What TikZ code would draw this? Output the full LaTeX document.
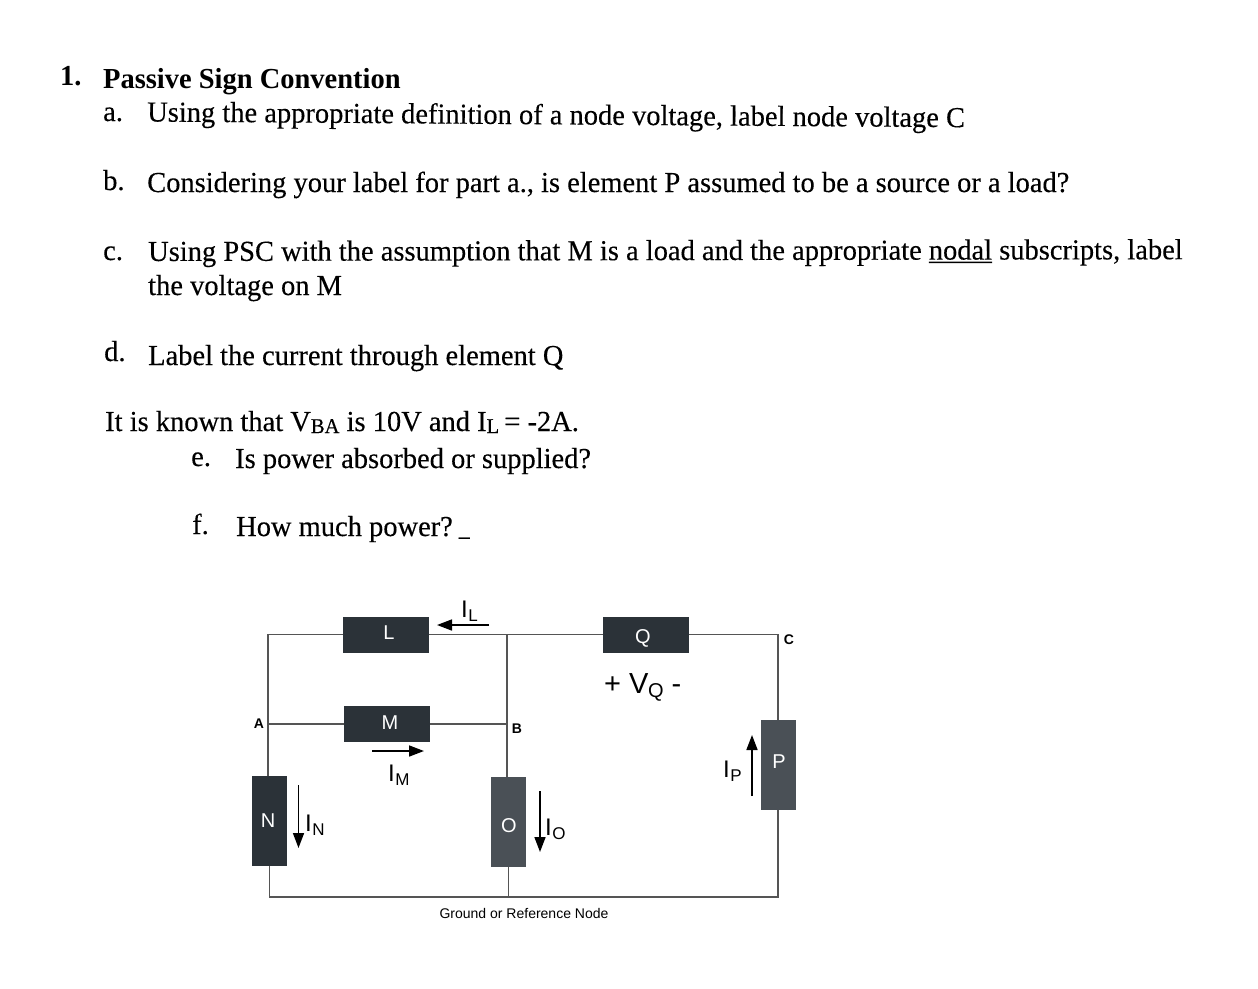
\documentclass[tikz,border=0pt]{standalone}
\usepackage{fontspec}
\setmainfont[FakeStretch=0.982,UprightFeatures={FakeBold=0.25}]{Liberation Serif}
\setsansfont{Liberation Sans}
\usetikzlibrary{arrows.meta}
\definecolor{boxdark}{HTML}{2B3238}
\definecolor{boxgrey}{HTML}{4A5056}
\definecolor{wire}{HTML}{555555}
\newcommand{\bodysize}{\fontsize{29}{33}\selectfont}
\newcommand{\lowsub}[1]{\raisebox{-2pt}{\fontsize{21}{21}\selectfont #1}}
\newcommand{\cursym}[1]{I\kern.5pt\raisebox{-4pt}{\fontsize{17}{17}\selectfont #1}}
\newcommand{\thickul}[1]{\setbox0\hbox{#1}\rlap{\rule[-3.5pt]{\wd0}{1.4pt}}#1}
\tikzset{
  x=1pt,y=-1pt,
  txt/.style={anchor=base west,inner sep=0pt,font=\bodysize},
  element/.style={draw=none,fill=boxdark,inner sep=0pt},
  horiz/.style={element,minimum width=86pt,minimum height=36pt},
  vert/.style={element,minimum width=35pt,minimum height=90pt},
  letter/.style={inner sep=0pt,text=white,font=\sffamily\fontsize{20}{20}\selectfont},
  wireline/.style={draw=wire,line width=1.4pt},
  lbl/.style={anchor=base west,inner sep=0pt,font=\sffamily\fontsize{24}{24}\selectfont},
  small/.style={inner sep=0pt,font=\sffamily\bfseries\fontsize{14}{14}\selectfont},
  currentarrow/.style={line width=1.6pt,-{Triangle[length=15pt,width=11pt]}}
}
\begin{document}
\begin{tikzpicture}
\useasboundingbox (0,0) rectangle (1258,988);
\fill[white] (0,0) rectangle (1258,988);
% text
\node[txt,font=\bodysize\bfseries] (n1) at (60,85) {1.};
\node[txt,font=\bodysize\bfseries] (t1) at (103,88) {Passive Sign Convention};
\node[txt] (la) at (103,121) {a.};
\node[txt,rotate=-0.4] (ta) at (147,121.5) {Using the appropriate definition of a node voltage, label node voltage C};
\node[txt] (lb) at (103,190) {b.};
\node[txt] (tb) at (147,192) {Considering your label for part a., is element P assumed to be a source or a load?};
\node[txt] (lc) at (103,260) {c.};
\node[txt,rotate=0.1] (tc) at (148,261) {Using PSC with the assumption that M is a load and the appropriate \thickul{nodal} subscripts, label};
\node[txt] (tc2) at (148,295) {the voltage on M};
\node[txt] (ld) at (104,361) {d.};
\node[txt] (td) at (148,365) {Label the current through element Q};
\node[txt] (known) at (105,431) {It is known that V\lowsub{BA} is 10V and I\lowsub{L}\kern-2pt{} = -2A.};
\node[txt] (le) at (191,466) {e.};
\node[txt] (te) at (235,468) {Is power absorbed or supplied?};
\node[txt] (lf) at (192,534) {f.};
\node[txt] (tf) at (236,536) {How much power?\kern6pt{\fontsize{22}{22}\selectfont\_}};
% elements
\node[horiz] (L) at (386,634.5) {};
\node[horiz] (M) at (387,724) {};
\node[horiz] (Q) at (646,635) {};
\node[vert] (N) at (269.5,821) {};
\node[vert,fill=boxgrey] (O) at (508.5,822) {};
\node[vert,fill=boxgrey] (P) at (778,765) {};
\node[letter] (lL) at (389,633) {L};
\node[letter] (lM) at (390,723) {M};
\node[letter] (lQ) at (643,638) {Q};
\node[letter] (lN) at (268,821) {N};
\node[letter] (lO) at (509,826) {O};
\node[letter] (lP) at (779,762) {P};
% wiring junctions
\coordinate (tl) at (268,634.5);
\coordinate (A) at (268,724);
\coordinate (B) at (507,724);
\coordinate (TB) at (507,634.5);
\coordinate (tr) at (778,634.5);
\coordinate (bl) at (269.5,897);
\coordinate (bo) at (508.5,897);
\coordinate (br) at (778,897);
\draw[wireline] (L.west |- tl) -- (tl) -- (A) -- (A |- N.north);
\draw[wireline] (L.east |- TB) -- (TB) -- (Q.west |- TB);
\draw[wireline] (Q.east |- tr) -- (tr) -- (P.north);
\draw[wireline] (A) -- (M.west);
\draw[wireline] (M.east) -- (B);
\draw[wireline] (TB) -- (B) -- (B |- O.north);
\draw[wireline] (N.south) -- (bl) -- (br) -- (P.south);
\draw[wireline] (O.south) -- (bo);
% node labels
\node[small] (lA) at (259,724) {A};
\node[small] (lB) at (517,729) {B};
\node[small] (lC) at (789,640) {C};
\node[inner sep=0pt,font=\sffamily\fontsize{14}{14}\selectfont] (gnd) at (524,913) {Ground or Reference Node};
% current arrows
\coordinate (iLa) at (489,625); \coordinate (iLb) at (437,625);
\draw[currentarrow] (iLa) -- (iLb);
\node[lbl] (iL) at (461,617) {\cursym{L}};
\coordinate (iMa) at (372,751); \coordinate (iMb) at (424,751);
\draw[currentarrow] (iMa) -- (iMb);
\node[lbl] (iM) at (388,781) {\cursym{M}};
\coordinate (iNa) at (298.5,785); \coordinate (iNb) at (298.5,848);
\draw[currentarrow] (iNa) -- (iNb);
\node[lbl] (iN) at (305,831) {\cursym{N}};
\coordinate (iOa) at (540,791); \coordinate (iOb) at (540,852);
\draw[currentarrow] (iOa) -- (iOb);
\node[lbl] (iO) at (545,835) {\cursym{O}};
\coordinate (iPa) at (752,796); \coordinate (iPb) at (752,735);
\draw[currentarrow] (iPa) -- (iPb);
\node[lbl] (iP) at (723,777) {\cursym{P}};
\node[lbl,font=\sffamily\fontsize{29}{29}\selectfont] (vq) at (604,693) {+ V\kern-.5pt\raisebox{-4pt}{\fontsize{20}{20}\selectfont Q} -};
\end{tikzpicture}
\end{document}
